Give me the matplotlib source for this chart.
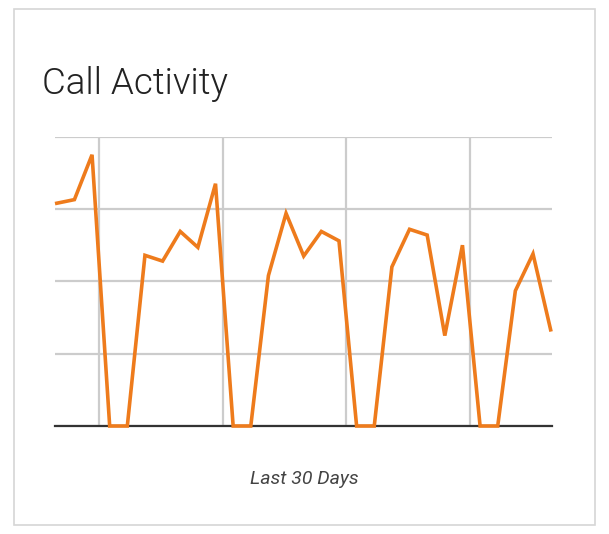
import matplotlib
matplotlib.use("Agg")
import matplotlib.pyplot as plt
from matplotlib.patches import Rectangle

# Data: daily call counts over the last 30 days
days = list(range(29))
calls = [30.8, 31.3, 37.5, 0, 0, 23.6, 22.8, 26.9, 24.7, 33.5,
         0, 0, 20.8, 29.4, 23.5, 26.9, 25.6, 0, 0, 22.0,
         27.2, 26.4, 12.5, 25.0, 0, 0, 18.7, 23.8, 13.3]
y_grid = [0, 10, 20, 30, 40]
week_marks = [2.42, 9.42, 16.42, 23.42]

W, H = 609, 534
fig = plt.figure(figsize=(W / 100, H / 100), dpi=100)
fig.patch.set_facecolor("white")

def fx(px): return px / W
def fy(py): return 1 - py / H

# card
card = Rectangle((fx(14), fy(525)), fx(595) - fx(14), fy(9) - fy(525),
                 transform=fig.transFigure, facecolor="white",
                 edgecolor="#d6d6d6", linewidth=1.2, zorder=-5)
fig.add_artist(card)

fig.text(fx(42), fy(94), "Call Activity", fontsize=26.5, family="Roboto",
         fontweight=300, color="#222222", ha="left", va="baseline")

ax = fig.add_axes([fx(55), fy(426), fx(552.4) - fx(55), fy(136.7) - fy(426)])
ax.set_zorder(2)
ax.set_facecolor("none")
ax.set_xlim(-0.1, 28.1)
ax.set_ylim(0, 40)
ax.set_yticks(y_grid)
ax.set_xticks(week_marks)
ax.tick_params(length=0, labelleft=False, labelbottom=False)
ax.grid(True, color="#cccccc", linewidth=1.6)
ax.set_axisbelow(True)
for s in ax.spines.values():
    s.set_visible(False)

ax.axhline(0, color="#333333", linewidth=1.6, clip_on=False, zorder=2)
ax.plot(days, calls, color="#ee7b1c", linewidth=2.6, clip_on=False,
        solid_joinstyle="miter", zorder=3)

fig.text(fx(304), fy(483.5), "Last 30 Days", fontsize=14, family="Roboto",
         style="italic", color="#444444", ha="center", va="baseline")

fig.savefig("out.png", dpi=100)
